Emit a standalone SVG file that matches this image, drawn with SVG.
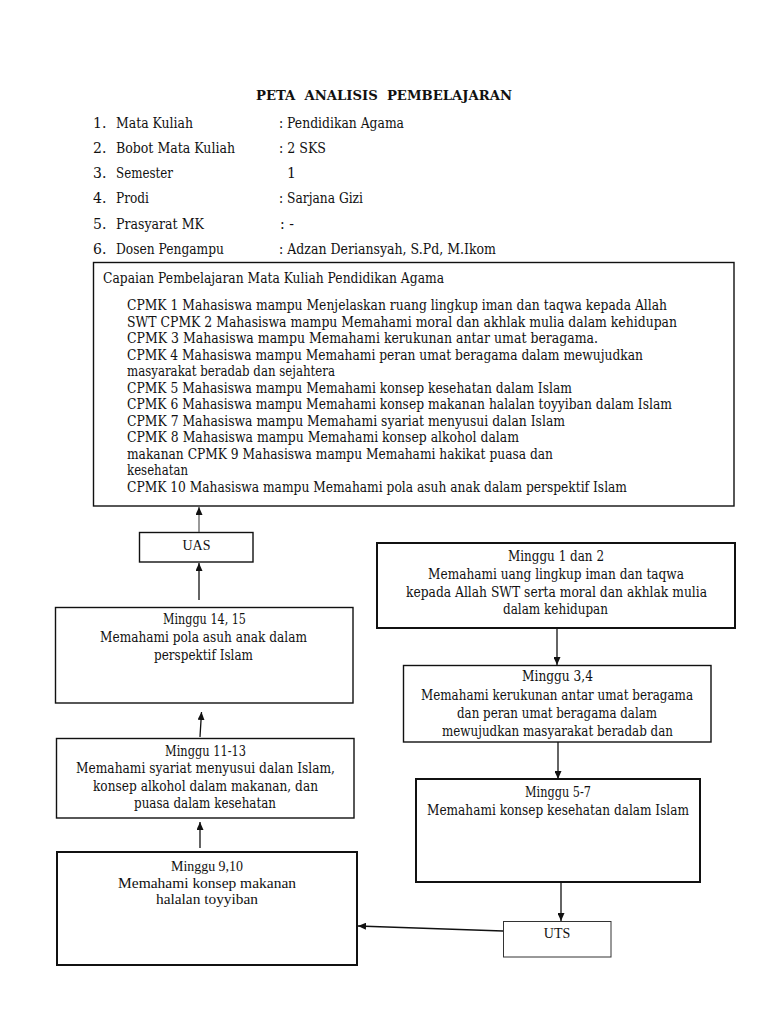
<svg xmlns="http://www.w3.org/2000/svg" width="768" height="1024" viewBox="0 0 768 1024">
<style>
  .t { font-family: "DejaVu Serif", "Liberation Serif", serif; font-size: 14px; fill: #111; }
  .tb { font-family: "DejaVu Serif", "Liberation Serif", serif; font-size: 13.5px; font-weight: bold; fill: #111; white-space: pre; }
  .tl { font-family: "Liberation Serif", "Times New Roman", serif; font-size: 15.5px; fill: #111; }
  .tu { font-family: "Liberation Serif", "Times New Roman", serif; font-size: 14px; fill: #111; }
  .box { fill: #fff; stroke: #111; stroke-width: 1.4; }
  .boxk { fill: #fff; stroke: #111; stroke-width: 2; }
  .boxt { fill: #fff; stroke: #333; stroke-width: 1; }
  .conn { stroke: #111; stroke-width: 1.3; fill: none; marker-end: url(#arr); }
  .conng { stroke: #555; stroke-width: 1.2; fill: none; marker-end: url(#arr); }
</style>
<defs>
  <marker id="arr" markerUnits="userSpaceOnUse" markerWidth="9" markerHeight="7" refX="8" refY="3.5" orient="auto">
    <path d="M0,0 L8,3.5 L0,7 z" fill="#111"/>
  </marker>
</defs>
<rect width="768" height="1024" fill="#fff"/>

<g id="header">
  <text class="tb" x="256" y="100" textLength="256" lengthAdjust="spacingAndGlyphs">PETA  ANALISIS  PEMBELAJARAN</text>
  <text class="t" x="93" y="128">1.</text>
  <text class="t" x="116" y="128" textLength="77" lengthAdjust="spacingAndGlyphs">Mata Kuliah</text>
  <text class="t" x="279" y="128" textLength="125" lengthAdjust="spacingAndGlyphs">: Pendidikan Agama</text>
  <text class="t" x="93" y="153">2.</text>
  <text class="t" x="116" y="153" textLength="119" lengthAdjust="spacingAndGlyphs">Bobot Mata Kuliah</text>
  <text class="t" x="279" y="153" textLength="47" lengthAdjust="spacingAndGlyphs">: 2 SKS</text>
  <text class="t" x="93" y="178">3.</text>
  <text class="t" x="116" y="178" textLength="57" lengthAdjust="spacingAndGlyphs">Semester</text>
  <text class="t" x="287" y="178">1</text>
  <text class="t" x="93" y="203">4.</text>
  <text class="t" x="116" y="203" textLength="33" lengthAdjust="spacingAndGlyphs">Prodi</text>
  <text class="t" x="279" y="203" textLength="84" lengthAdjust="spacingAndGlyphs">: Sarjana Gizi</text>
  <text class="t" x="93" y="229">5.</text>
  <text class="t" x="116" y="229" textLength="88" lengthAdjust="spacingAndGlyphs">Prasyarat MK</text>
  <text class="t" x="280" y="229">: -</text>
  <text class="t" x="93" y="254">6.</text>
  <text class="t" x="116" y="254" textLength="108" lengthAdjust="spacingAndGlyphs">Dosen Pengampu</text>
  <text class="t" x="279" y="254" textLength="217" lengthAdjust="spacingAndGlyphs">: Adzan Deriansyah, S.Pd, M.Ikom</text>
</g>

<g id="cpmk">
  <rect class="box" x="93.5" y="262.5" width="640.5" height="243.5"/>
  <text class="t" x="103" y="283" textLength="341" lengthAdjust="spacingAndGlyphs">Capaian Pembelajaran Mata Kuliah Pendidikan Agama</text>
  <text class="t" x="127" y="310" textLength="540" lengthAdjust="spacingAndGlyphs">CPMK 1 Mahasiswa mampu Menjelaskan ruang lingkup iman dan taqwa kepada Allah</text>
  <text class="t" x="127" y="326.5" textLength="550" lengthAdjust="spacingAndGlyphs">SWT CPMK 2 Mahasiswa mampu Memahami moral dan akhlak mulia dalam kehidupan</text>
  <text class="t" x="127" y="343" textLength="471" lengthAdjust="spacingAndGlyphs">CPMK 3 Mahasiswa mampu Memahami kerukunan antar umat beragama.</text>
  <text class="t" x="127" y="359.5" textLength="516" lengthAdjust="spacingAndGlyphs">CPMK 4 Mahasiswa mampu Memahami peran umat beragama dalam mewujudkan</text>
  <text class="t" x="127" y="376" textLength="208" lengthAdjust="spacingAndGlyphs">masyarakat beradab dan sejahtera</text>
  <text class="t" x="127" y="392.5" textLength="445" lengthAdjust="spacingAndGlyphs">CPMK 5 Mahasiswa mampu Memahami konsep kesehatan dalam Islam</text>
  <text class="t" x="127" y="409" textLength="545" lengthAdjust="spacingAndGlyphs">CPMK 6 Mahasiswa mampu Memahami konsep makanan halalan toyyiban dalam Islam</text>
  <text class="t" x="127" y="425.5" textLength="438" lengthAdjust="spacingAndGlyphs">CPMK 7 Mahasiswa mampu Memahami syariat menyusui dalan Islam</text>
  <text class="t" x="127" y="442" textLength="392" lengthAdjust="spacingAndGlyphs">CPMK 8 Mahasiswa mampu Memahami konsep alkohol dalam</text>
  <text class="t" x="127" y="458.5" textLength="426" lengthAdjust="spacingAndGlyphs">makanan CPMK 9 Mahasiswa mampu Memahami hakikat puasa dan</text>
  <text class="t" x="127" y="475" textLength="61" lengthAdjust="spacingAndGlyphs">kesehatan</text>
  <text class="t" x="127" y="491.5" textLength="500" lengthAdjust="spacingAndGlyphs">CPMK 10 Mahasiswa mampu Memahami pola asuh anak dalam perspektif Islam</text>
</g>

<g id="uas">
  <rect class="box" x="139.5" y="532.5" width="113.5" height="29.5"/>
  <text class="tu" x="196.5" y="550" text-anchor="middle">UAS</text>
</g>

<g id="minggu14-15">
  <rect class="box" x="55.5" y="607.5" width="297.5" height="95.5"/>
  <text class="t" x="163" y="623.5" textLength="83" lengthAdjust="spacingAndGlyphs">Minggu 14, 15</text>
  <text class="t" x="100" y="641.5" textLength="207" lengthAdjust="spacingAndGlyphs">Memahami pola asuh anak dalam</text>
  <text class="t" x="154" y="659.5" textLength="99" lengthAdjust="spacingAndGlyphs">perspektif Islam</text>
</g>

<g id="minggu11-13">
  <rect class="box" x="56.5" y="738.5" width="297.5" height="79.5"/>
  <text class="t" x="165" y="755.5" textLength="81" lengthAdjust="spacingAndGlyphs">Minggu 11-13</text>
  <text class="t" x="76" y="772.5" textLength="259" lengthAdjust="spacingAndGlyphs">Memahami syariat menyusui dalan Islam,</text>
  <text class="t" x="93" y="790.5" textLength="225" lengthAdjust="spacingAndGlyphs">konsep alkohol dalam makanan, dan</text>
  <text class="t" x="134" y="807.5" textLength="142" lengthAdjust="spacingAndGlyphs">puasa dalam kesehatan</text>
</g>

<g id="minggu9-10">
  <rect class="boxk" x="57" y="852" width="300" height="113"/>
  <text class="tl" x="171" y="871" textLength="72" lengthAdjust="spacingAndGlyphs">Minggu 9,10</text>
  <text class="tl" x="118" y="888" textLength="178" lengthAdjust="spacingAndGlyphs">Memahami konsep makanan</text>
  <text class="tl" x="156" y="904" textLength="102" lengthAdjust="spacingAndGlyphs">halalan toyyiban</text>
</g>

<g id="minggu1-2">
  <rect class="boxk" x="377" y="543" width="358" height="85"/>
  <text class="t" x="508" y="561" textLength="96" lengthAdjust="spacingAndGlyphs">Minggu 1 dan 2</text>
  <text class="t" x="428" y="579" textLength="256" lengthAdjust="spacingAndGlyphs">Memahami uang lingkup iman dan taqwa</text>
  <text class="t" x="406" y="597" textLength="301" lengthAdjust="spacingAndGlyphs">kepada Allah SWT serta moral dan akhlak mulia</text>
  <text class="t" x="503" y="614" textLength="105" lengthAdjust="spacingAndGlyphs">dalam kehidupan</text>
</g>

<g id="minggu3-4">
  <rect class="box" x="403.5" y="665.5" width="307.5" height="76.5"/>
  <text class="t" x="522" y="681" textLength="71" lengthAdjust="spacingAndGlyphs">Minggu 3,4</text>
  <text class="t" x="421" y="700" textLength="272" lengthAdjust="spacingAndGlyphs">Memahami kerukunan antar umat beragama</text>
  <text class="t" x="457" y="718" textLength="200" lengthAdjust="spacingAndGlyphs">dan peran umat beragama dalam</text>
  <text class="t" x="442" y="736" textLength="231" lengthAdjust="spacingAndGlyphs">mewujudkan masyarakat beradab dan</text>
</g>

<g id="minggu5-7">
  <rect class="boxk" x="416" y="779" width="284" height="103"/>
  <text class="t" x="525" y="797" textLength="66" lengthAdjust="spacingAndGlyphs">Minggu 5-7</text>
  <text class="t" x="427" y="815" textLength="262" lengthAdjust="spacingAndGlyphs">Memahami konsep kesehatan dalam Islam</text>
</g>

<g id="uts">
  <rect class="boxt" x="503.5" y="921.5" width="107.5" height="35.5"/>
  <text class="tu" x="557" y="938" text-anchor="middle">UTS</text>
</g>

<g id="connectors">
  <line class="conng" x1="199" y1="532" x2="199" y2="507"/>
  <line class="conn" x1="199" y1="600" x2="199" y2="563"/>
  <line class="conn" x1="200" y1="737" x2="201.5" y2="712"/>
  <line class="conn" x1="200" y1="848" x2="200" y2="822"/>
  <line class="conn" x1="557" y1="629" x2="557" y2="665"/>
  <line class="conn" x1="558" y1="742" x2="558" y2="779"/>
  <line class="conn" x1="561" y1="883" x2="561" y2="921"/>
  <line class="conn" x1="503" y1="931" x2="358" y2="926"/>
</g>
</svg>
